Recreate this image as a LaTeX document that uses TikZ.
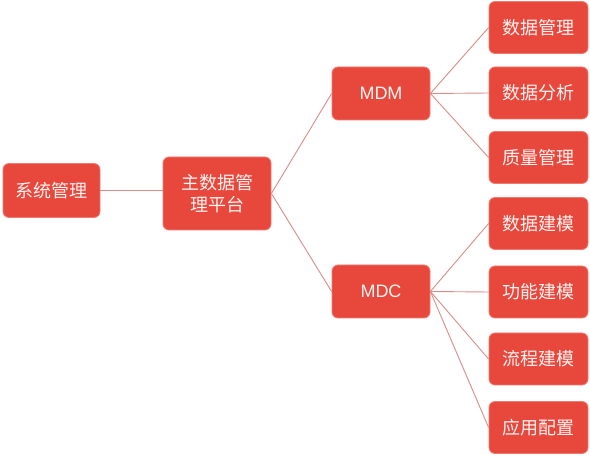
\documentclass[tikz,border=0pt]{standalone}
\usepackage{fontspec}
\setmainfont{Liberation Sans}
\newfontfamily\cjk{Noto Sans CJK SC}
\definecolor{boxred}{HTML}{E8483C}
\definecolor{boxedge}{HTML}{EE7A70}
\definecolor{linkc}{HTML}{D98C88}
\begin{document}
\begin{tikzpicture}[x=1pt,y=-1pt,
  tbox/.style={draw=boxedge,line width=0.8pt,fill=boxred,rounded corners=6pt,
    text=white!95!red,inner sep=0pt,align=center,font=\fontsize{18}{22}\selectfont\cjk},
  lbox/.style={tbox,font=\fontsize{18}{22}\selectfont},
  link/.style={draw=linkc,line width=0.9pt}]
\useasboundingbox (0,0) rectangle (590,457);
\node[tbox,minimum width=97pt,minimum height=54pt] (sys) at (51.5,190.5) {系统管理};
\node[tbox,minimum width=108pt,minimum height=73pt] (main) at (217,193.5) {主数据管\\理平台};
\node[lbox,minimum width=98pt,minimum height=53pt] (mdm) at (381,93.5) {MDM};
\node[lbox,minimum width=98pt,minimum height=53pt] (mdc) at (381,291.5) {MDC};
\node[tbox,minimum width=99pt,minimum height=52pt] (c1) at (538.5,27.5) {数据管理};
\node[tbox,minimum width=99pt,minimum height=52pt] (c2) at (538.5,93) {数据分析};
\node[tbox,minimum width=99pt,minimum height=52pt] (c3) at (538.5,157.5) {质量管理};
\node[tbox,minimum width=99pt,minimum height=52pt] (c4) at (538.5,223.5) {数据建模};
\node[tbox,minimum width=99pt,minimum height=52pt] (c5) at (538.5,292) {功能建模};
\node[tbox,minimum width=99pt,minimum height=52pt] (c6) at (538.5,359) {流程建模};
\node[tbox,minimum width=99pt,minimum height=52pt] (c7) at (538.5,427.5) {应用配置};
\draw[link] (sys.east) -- (main.west |- sys.east);
\draw[link] (main.east) -- (mdm.west);
\draw[link] (main.east) -- (mdc.west);
\foreach \c in {c1,c2,c3} \draw[link] (mdm.east) -- (\c.west);
\foreach \c in {c4,c5,c6,c7} \draw[link] (mdc.east) -- (\c.west);
\end{tikzpicture}
\end{document}
